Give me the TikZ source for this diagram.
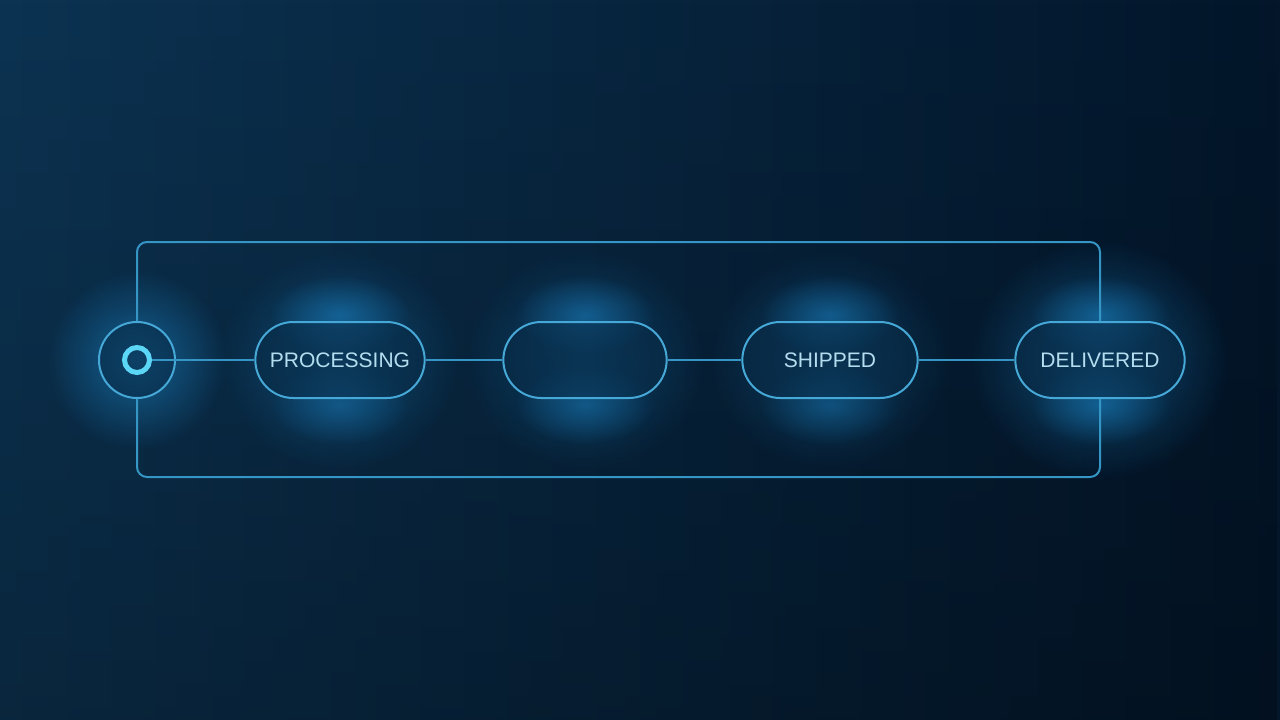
\documentclass[tikz,border=0pt]{standalone}
\usepackage{fontspec}
\newfontfamily\lbl{Liberation Sans}
\usetikzlibrary{shapes.misc,fadings}
\definecolor{bgL}{HTML}{0C3352}
\definecolor{bgR}{HTML}{03162A}
\definecolor{linec}{HTML}{3596C6}
\definecolor{pillc}{HTML}{45A8D6}
\definecolor{txtc}{HTML}{B4DEF0}
\definecolor{ringc}{HTML}{5CD6F6}
\definecolor{glowc}{HTML}{1D8FD6}
\definecolor{pillfill}{HTML}{082B47}
\tikzfading[name=glowfade, inner color=transparent!0, outer color=transparent!100]
\tikzset{
  conn/.style={draw=linec, line width=2pt},
  pill/.style={rounded rectangle, draw=pillc, line width=2pt, fill=pillfill, fill opacity=0.55, text opacity=1,
    minimum width=176pt, minimum height=76pt, text=txtc, font=\lbl\fontsize{21}{24}\selectfont},
  startouter/.style={circle, draw=pillc, line width=2pt, fill=pillfill, fill opacity=0.6, minimum size=76pt},
  startinner/.style={circle, draw=ringc, line width=5pt, minimum size=25pt, inner sep=0pt},
  glow/.style={fill=glowc, path fading=glowfade}
}
\begin{document}
\begin{tikzpicture}[x=1pt,y=-1pt]
\useasboundingbox (0,0) rectangle (1280,720);
\shade[left color=bgL, right color=bgR] (0,0) rectangle (1280,720);
\fill[black, opacity=0.25, path fading=north] (0,0) rectangle (1280,720);
% glows
\fill[glow, opacity=0.55] (137,360) ellipse (90 and 90);
\fill[glow, opacity=0.35] (340,360) ellipse (120 and 110);
\fill[glow, opacity=0.45] (340,315) ellipse (70 and 40);
\fill[glow, opacity=0.35] (340,405) ellipse (70 and 40);
\fill[glow, opacity=0.30] (585,360) ellipse (120 and 110);
\fill[glow, opacity=0.45] (585,315) ellipse (70 and 40);
\fill[glow, opacity=0.40] (585,405) ellipse (70 and 40);
\fill[glow, opacity=0.30] (830,360) ellipse (120 and 110);
\fill[glow, opacity=0.45] (830,315) ellipse (70 and 40);
\fill[glow, opacity=0.35] (830,405) ellipse (70 and 40);
\fill[glow, opacity=0.45] (1100,360) ellipse (130 and 120);
\fill[glow, opacity=0.45] (1100,315) ellipse (70 and 40);
\fill[glow, opacity=0.45] (1100,405) ellipse (70 and 40);
% nodes
\node[startouter] (start) at (137,360) {};
\node[startinner] (ring) at (137,360) {};
\node[pill] (proc) at (340,360) {PROCESSING};
\node[pill, minimum width=170pt] (blank) at (585,360) {};
\node[pill, minimum width=182pt] (ship) at (830,360) {SHIPPED};
\node[pill] (deliv) at (1100,360) {DELIVERED};
\coordinate (toprail) at (620,242);
\coordinate (botrail) at (620,477);
% connectors
\draw[conn] (ring.east) -- (proc.west);
\draw[conn] (proc.east) -- (blank.west);
\draw[conn] (blank.east) -- (ship.west);
\draw[conn] (ship.east) -- (deliv.west);
\draw[conn, rounded corners=10pt] (start.north) |- (toprail) -| (deliv.north);
\draw[conn, rounded corners=10pt] (start.south) |- (botrail) -| (deliv.south);
\end{tikzpicture}
\end{document}
